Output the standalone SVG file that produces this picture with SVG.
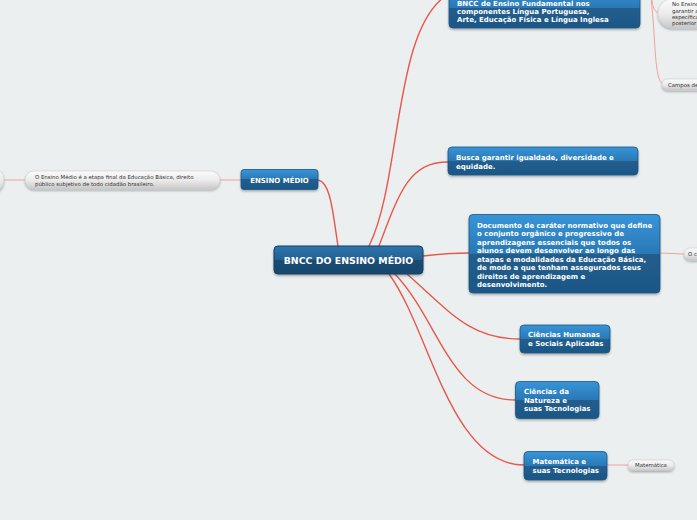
<svg xmlns="http://www.w3.org/2000/svg" width="697" height="520" viewBox="0 0 697 520">
<defs>
<linearGradient id="gBlue" x1="0" y1="0" x2="0" y2="1">
<stop offset="0" stop-color="#3795d8"/><stop offset="0.5" stop-color="#2a78b5"/><stop offset="0.5" stop-color="#215d8c"/><stop offset="1" stop-color="#1e5786"/>
</linearGradient>
<linearGradient id="gRoot" x1="0" y1="0" x2="0" y2="1">
<stop offset="0" stop-color="#2d76ad"/><stop offset="0.5" stop-color="#235f90"/><stop offset="0.5" stop-color="#1a4b72"/><stop offset="1" stop-color="#194a70"/>
</linearGradient>
<linearGradient id="gPill" x1="0" y1="0" x2="0" y2="1">
<stop offset="0" stop-color="#fbfbfb"/><stop offset="0.5" stop-color="#ececec"/><stop offset="1" stop-color="#c9c9c9"/>
</linearGradient>
<filter id="sh" x="-10%" y="-20%" width="120%" height="150%">
<feDropShadow dx="0" dy="1.5" stdDeviation="1.2" flood-color="#000" flood-opacity="0.3"/>
</filter>
</defs>
<style>
.bg{fill:#ebeff0}
.box{fill:url(#gBlue);stroke:#1c5580;stroke-width:0.8;filter:url(#sh)}
.root{fill:url(#gRoot);stroke:#163f60;stroke-width:1;filter:url(#sh)}
.pill{fill:url(#gPill);stroke:#c4c4c4;stroke-width:0.5;filter:url(#sh)}
.t{font-family:"DejaVu Sans",Verdana,sans-serif;font-weight:bold;font-size:7px;fill:#ffffff}
.tr{font-family:"DejaVu Sans",Verdana,sans-serif;font-weight:bold;font-size:9.4px;fill:#ffffff;text-anchor:middle}
.tp{font-family:"DejaVu Sans",Verdana,sans-serif;font-size:5.4px;fill:#333333}
.c{fill:none;stroke:#e8574a;stroke-width:1.4;stroke-linecap:round}
.cl{fill:none;stroke:#f0a39a;stroke-width:1;stroke-linecap:round}
</style>
<rect class="bg" x="0" y="0" width="697" height="520"/>
<g id="connectors">
<path class="c" d="M338,246 C333,215 331,182 318,180"/>
<path class="c" d="M369,246 C402,180 393,25 449,-6"/>
<path class="c" d="M379,246 C400,190 410,162 448,162"/>
<path class="c" d="M423,256 C440,254 450,253 469,253"/>
<path class="c" d="M407,274 C450,312 470,339 520,339"/>
<path class="c" d="M395,274 C440,322 450,400 515,400"/>
<path class="c" d="M389,274 C430,330 450,465 524,465"/>
<path class="cl" d="M241,180 L220,180"/>
<path class="cl" d="M25,180 L3,180"/>
<path class="cl" d="M660,253 L684,254"/>
<path class="cl" d="M607,465 L628,465"/>
<path class="cl" d="M652,-2 C652,8 655,13 660,13"/>
<path class="cl" d="M651,-2 C656,40 654,82 663,84"/>
</g>
<g id="n-root">
<rect class="root" x="274" y="246" width="149" height="28" rx="4"/>
<text class="tr" x="348.5" y="264.3">BNCC DO ENSINO MÉDIO</text>
</g>
<g id="n-ensino">
<rect class="box" x="241" y="169.5" width="77" height="20" rx="3"/>
<text class="t" x="279.5" y="182.5" text-anchor="middle">ENSINO MÉDIO</text>
</g>
<g id="n-ensino-desc">
<rect class="pill" x="25" y="171" width="195" height="18" rx="9"/>
<text class="tp" x="35" y="178.5">O Ensino Médio é a etapa final da Educação Básica, direito</text>
<text class="tp" x="35" y="185.5">público subjetivo de todo cidadão brasileiro.</text>
</g>
<g id="n-left-edge">
<rect class="pill" x="-60" y="167" width="64" height="26" rx="13"/>
</g>
<g id="n-fundamental">
<rect class="box" x="449" y="-12" width="191" height="40" rx="4"/>
<text class="t" x="457" y="5.5">BNCC de Ensino Fundamental nos</text>
<text class="t" x="457" y="13.8">componentes Língua Portuguesa,</text>
<text class="t" x="457" y="22.1">Arte, Educação Física e Língua Inglesa</text>
</g>
<g id="n-ensino-fund-desc">
<rect class="pill" x="658" y="-1" width="70" height="29" rx="14"/>
<text class="tp" x="672" y="6">No Ensino</text>
<text class="tp" x="672" y="12.5">garantir a</text>
<text class="tp" x="672" y="18.5">específica</text>
<text class="tp" x="672" y="25">posterior</text>
</g>
<g id="n-campos">
<rect class="pill" x="662" y="79" width="60" height="11" rx="5.5"/>
<text class="tp" x="668" y="86.5">Campos de</text>
</g>
<g id="n-busca">
<rect class="box" x="448" y="147" width="190" height="28" rx="4"/>
<text class="t" x="456" y="159.5">Busca garantir igualdade, diversidade e</text>
<text class="t" x="456" y="168.5">equidade.</text>
</g>
<g id="n-documento">
<rect class="box" x="469" y="214.5" width="191" height="78.5" rx="4"/>
<text class="t" x="477" y="227.5">Documento de caráter normativo que define</text>
<text class="t" x="477" y="236">o conjunto orgânico e progressivo de</text>
<text class="t" x="477" y="244.5">aprendizagens essenciais que todos os</text>
<text class="t" x="477" y="253">alunos devem desenvolver ao longo das</text>
<text class="t" x="477" y="261.5">etapas e modalidades da Educação Básica,</text>
<text class="t" x="477" y="270">de modo a que tenham assegurados seus</text>
<text class="t" x="477" y="278.5">direitos de aprendizagem e</text>
<text class="t" x="477" y="287">desenvolvimento.</text>
</g>
<g id="n-doc-child">
<rect class="pill" x="684" y="248" width="40" height="12" rx="6"/>
<text class="tp" x="688" y="256">O c</text>
</g>
<g id="n-humanas">
<rect class="box" x="520" y="325" width="90" height="28" rx="4"/>
<text class="t" x="528" y="337">Ciências Humanas</text>
<text class="t" x="528" y="346">e Sociais Aplicadas</text>
</g>
<g id="n-natureza">
<rect class="box" x="515.5" y="381.5" width="83.5" height="37" rx="4"/>
<text class="t" x="524" y="394">Ciências da</text>
<text class="t" x="524" y="402.5">Natureza e</text>
<text class="t" x="524" y="411">suas Tecnologias</text>
</g>
<g id="n-matematica">
<rect class="box" x="524" y="451.5" width="83" height="28.5" rx="4"/>
<text class="t" x="532.5" y="463.5">Matemática e</text>
<text class="t" x="532.5" y="472.5">suas Tecnologias</text>
</g>
<g id="n-mat-child">
<rect class="pill" x="628" y="460" width="46" height="10.5" rx="5.2"/>
<text class="tp" x="651" y="467" text-anchor="middle">Matemática</text>
</g>
</svg>
